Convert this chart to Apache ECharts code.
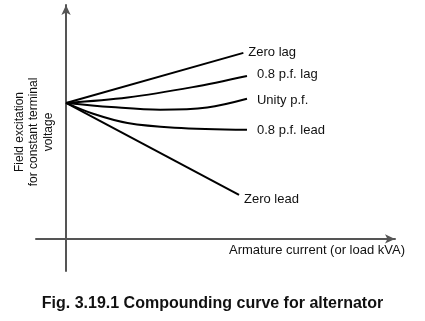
<!DOCTYPE html>
<html><head><meta charset="utf-8">
<script src="https://cdn.jsdelivr.net/npm/echarts@6/dist/echarts.min.js"></script>
<style>html,body{margin:0;padding:0;background:#fff}#c{width:425px;height:321px}</style>
</head><body><div id="c"></div>
<script>
// Armature current (arbitrary units) and field excitation (arbitrary units)
var zeroLagX = [0, 9.8];
var zeroLagY = [5.0, 6.84];
var lag08X = [0, 3.4, 7.0, 10];
var lag08Y = [5.0, 5.2, 5.58, 5.99];
var unityX = [0, 2.5, 5.2, 7.8, 10];
var unityY = [5.0, 4.85, 4.75, 4.83, 5.15];
var lead08X = [0, 1.5, 3.4, 6.0, 10];
var lead08Y = [5.0, 4.6, 4.26, 4.09, 4.01];
var zeroLeadX = [0, 9.56];
var zeroLeadY = [5.0, 1.62];
var seriesNames = ['Zero lag', '0.8 p.f. lag', 'Unity p.f.', '0.8 p.f. lead', 'Zero lead'];

function pairs(xs, ys){ return xs.map(function(x,i){ return [x, ys[i]]; }); }
var allData = [pairs(zeroLagX,zeroLagY), pairs(lag08X,lag08Y), pairs(unityX,unityY), pairs(lead08X,lead08Y), pairs(zeroLeadX,zeroLeadY)];
var labelOffsets = [[-3,0],[2,-2],[2,2],[2,1],[-3,5]];

var font = 'Liberation Sans, Arial, sans-serif';
var chart = echarts.init(document.getElementById('c'), null, {renderer:'canvas'});
chart.setOption({
  animation: false,
  title: {
    text: 'Fig. 3.19.1 Compounding curve for alternator',
    left: 'center', top: 291,
    textStyle: {fontFamily: font, fontSize: 16, fontWeight: 'bold', color: '#111'}
  },
  grid: {left: 36, right: 30, top: 5, bottom: 50, containLabel: false, outerBoundsMode: 'none'},
  xAxis: {
    type: 'value', min: -1.66, max: 18.18,
    axisLine: {onZero: true, lineStyle: {color: '#555', width: 2}, symbol: ['none','arrow'], symbolSize: [7,10]},
    axisTick: {show:false}, axisLabel: {show:false}, splitLine: {show:false},
    name: 'Armature current (or load kVA)', nameLocation: 'end', nameGap: 10,
    nameTextStyle: {fontFamily: font, fontSize: 13, color: '#111', align: 'right', verticalAlign: 'top', padding: [5,0,0,0]}
  },
  yAxis: {
    type: 'value', min: -1.18, max: 8.6,
    axisLine: {onZero: true, lineStyle: {color: '#555', width: 2}, symbol: ['none','arrow'], symbolSize: [7,10]},
    axisTick: {show:false}, axisLabel: {show:false}, splitLine: {show:false},
    name: 'Field excitation\nfor constant terminal\nvoltage', nameLocation: 'middle', nameRotate: 90, nameGap: 2,
    nameTextStyle: {fontFamily: font, fontSize: 12, color: '#111', lineHeight: 14.5, align: 'center', verticalAlign: 'middle', padding: [0,0,0,12]}
  },
  series: allData.map(function(d,i){
    return {
      name: seriesNames[i], type: 'line', data: d, smooth: d.length > 2 ? 0.35 : false,
      showSymbol: false, lineStyle: {color: '#000', width: 2},
      endLabel: {show: true, formatter: '{a}', offset: labelOffsets[i], fontFamily: font, fontSize: 13, color: '#111'}
    };
  })
});
</script></body></html>
